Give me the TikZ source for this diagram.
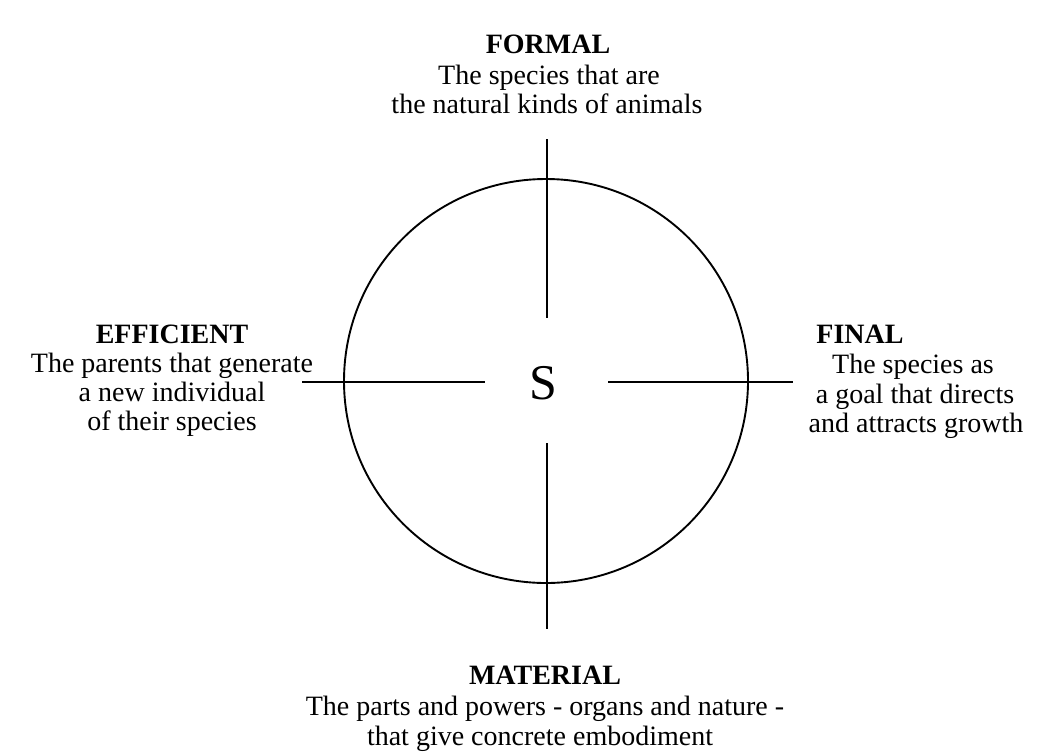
\documentclass[tikz,border=0pt]{standalone}
\usepackage{fontspec}
\setmainfont{Liberation Serif}
\begin{document}
\begin{tikzpicture}[x=1pt,y=-1pt,
  ttl/.style={anchor=base,inner sep=0pt,font=\fontsize{28}{30}\selectfont\bfseries},
  body/.style={anchor=base,inner sep=0pt,font=\fontsize{28}{30}\selectfont},
  axis/.style={line width=1.7pt,black},
  ring/.style={draw,circle,line width=1.9pt,minimum size=404pt,inner sep=0pt}]
\useasboundingbox[fill=white] (0,0) rectangle (1051,753);
% circle
\node[ring] (C) at (546,381) {};
\node[anchor=base,inner sep=0pt,font=\fontsize{50}{52}\selectfont] (S) at (543.5,399) {S};
% axis end points
\coordinate (t1) at (547,139); \coordinate (t2) at (547,318);
\coordinate (b1) at (547,443); \coordinate (b2) at (547,629);
\coordinate (l1) at (302,382); \coordinate (l2) at (485,382);
\coordinate (r1) at (608,382); \coordinate (r2) at (793,382);
\draw[axis] (t1) -- (t2);
\draw[axis] (b1) -- (b2);
\draw[axis] (l1) -- (l2);
\draw[axis] (r1) -- (r2);
% FORMAL
\node[ttl] (formal) at (548,53) {FORMAL};
\node[body] (formal1) at (549,84) {The species that are};
\node[body] (formal2) at (547,113) {the natural kinds of animals};
% EFFICIENT
\node[ttl] (eff) at (172,343) {EFFICIENT};
\node[body] (eff1) at (172,372) {The parents that generate};
\node[body] (eff2) at (172,401) {a new individual};
\node[body] (eff3) at (172,430) {of their species};
% FINAL
\node[ttl] (fin) at (860,343) {FINAL};
\node[body] (fin1) at (913,373) {The species as};
\node[body] (fin2) at (915,403) {a goal that directs};
\node[body] (fin3) at (916,432) {and attracts growth};
% MATERIAL
\node[ttl] (mat) at (545,684) {MATERIAL};
\node[body] (mat1) at (545,715) {The parts and powers - organs and nature -};
\node[body] (mat2) at (540,745) {that give concrete embodiment};
\end{tikzpicture}
\end{document}
